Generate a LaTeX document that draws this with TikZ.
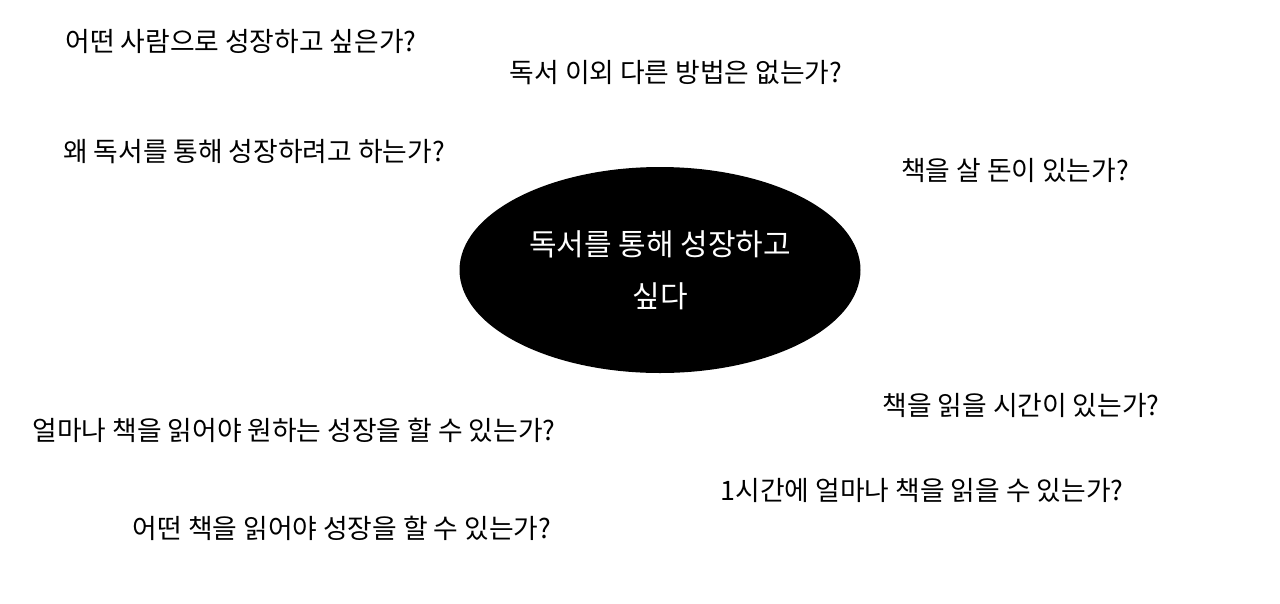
\documentclass[tikz,border=0pt]{standalone}
\usepackage{fontspec}
\setmainfont{Noto Sans CJK KR}
\usetikzlibrary{shapes.geometric}
\begin{document}
\begin{tikzpicture}[x=1pt,y=-1pt,
    question/.style={font=\fontsize{26.8}{30}\selectfont, inner sep=0pt, anchor=center},
    goal/.style={ellipse, fill=black, text=white, minimum width=401pt, minimum height=206pt,
        inner sep=0pt, align=center, font=\fontsize{30}{52}\selectfont}]
  \useasboundingbox (0,0) rectangle (1280,603);
  \node[goal] (goal) at (660,270) {독서를 통해 성장하고\\싶다};

  \node[question] (whoGrow) at (241,41) {어떤 사람으로 성장하고 싶은가?};
  \node[question] (otherWay) at (676,73) {독서 이외 다른 방법은 없는가?};
  \node[question] (whyRead) at (254,152) {왜 독서를 통해 성장하려고 하는가?};
  \node[question] (money) at (1015,170) {책을 살 돈이 있는가?};
  \node[question] (time) at (1021,405) {책을 읽을 시간이 있는가?};
  \node[question] (howMuch) at (294,430) {얼마나 책을 읽어야 원하는 성장을 할 수 있는가?};
  \node[question] (perHour) at (922,490) {1시간에 얼마나 책을 읽을 수 있는가?};
  \node[question] (whichBook) at (342,528) {어떤 책을 읽어야 성장을 할 수 있는가?};
\end{tikzpicture}
\end{document}
